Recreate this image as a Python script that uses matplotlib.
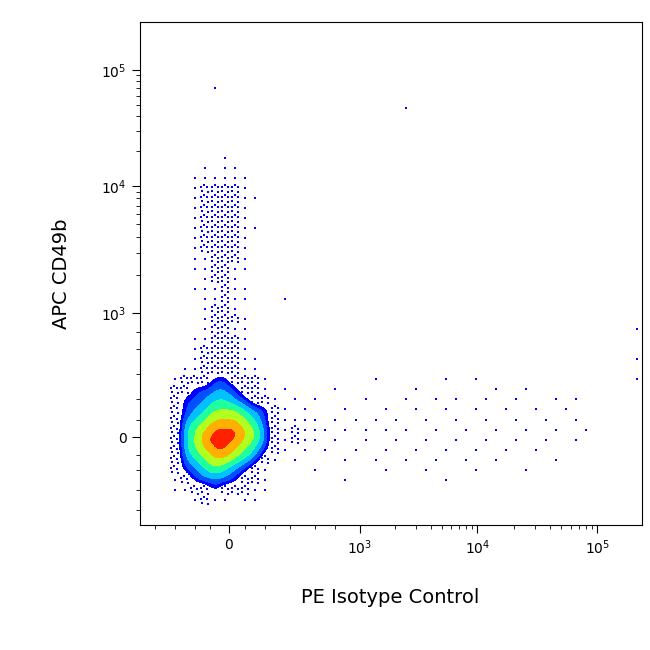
import numpy as np
import matplotlib
matplotlib.use("Agg")
import matplotlib.pyplot as plt
from matplotlib.colors import ListedColormap, BoundaryNorm

# axis positions (display units 0-100) of the biexponential tick marks
x_tick_pos = [17.7, 43.8, 67.3, 91.2]
x_tick_lab = ["0", r"$10^3$", r"$10^4$", r"$10^5$"]
y_tick_pos = [17.5, 42.1, 67.4, 90.5]
y_tick_lab = ["0", r"$10^3$", r"$10^4$", r"$10^5$"]

# density grid: row index (top=0), list of (start column, level string); cells are 2x2 units
density_rows = {
    6: [(7, "1")], 8: [(26, "1")], 13: [(8, "1")],
    14: [(6, "1011")], 15: [(5, "111111")],
    16: [(5, "122221")], 17: [(5, "122221"), (11, "1")], 18: [(5, "122221")],
    19: [(5, "122221")], 20: [(5, "122221"), (11, "1")], 21: [(5, "122221")],
    22: [(5, "122221")], 23: [(5, "112221")], 24: [(5, "112211")],
    25: [(6, "1221")], 26: [(5, "111211")], 27: [(6, "11211"), (14, "1")],
    28: [(6, "1221")], 29: [(6, "12221")], 30: [(6, "12211"), (49, "1")],
    31: [(5, "112221")], 32: [(5, "122221")], 33: [(5, "1222211"), (49, "1")],
    34: [(4, "11222211")],
    35: [(3, "1222332221"), (23, "1"), (30, "1"), (33, "1"), (49, "1")],
    36: [(3, "2233443221"), (14, "1"), (19, "1"), (27, "1"), (35, "1"), (38, "1")],
    37: [(3, "23345543221"), (15, "1"), (17, "1"), (22, "1"), (26, "1"), (29, "1"),
         (31, "1"), (34, "1"), (37, "1"), (41, "1"), (43, "1")],
    38: [(3, "234566654321"), (16, "1"), (20, "1"), (24, "1"), (27, "1"), (30, "1"),
         (33, "1"), (36, "1"), (39, "1"), (42, "1")],
    39: [(3, "245677765321"), (15, "111"), (19, "1"), (21, "1"), (23, "1"), (25, "1"),
         (28, "1"), (31, "1"), (34, "1"), (37, "1"), (40, "1"), (43, "1")],
    40: [(3, "256788876421"), (15, "2111"), (20, "1"), (22, "1"), (24, "1"), (26, "1"),
         (29, "1"), (32, "1"), (35, "1"), (38, "1"), (41, "1"), (44, "1")],
    41: [(3, "256888876421"), (15, "211"), (19, "1"), (22, "1"), (25, "1"), (28, "1"),
         (31, "1"), (34, "1"), (37, "1"), (40, "1"), (43, "1")],
    42: [(3, "256788765321"), (16, "1"), (18, "1"), (21, "1"), (24, "1"), (27, "1"),
         (30, "1"), (33, "1"), (36, "1"), (39, "1")],
    43: [(3, "24567765421"), (15, "1"), (20, "1"), (23, "1"), (26, "1"), (29, "1"),
         (32, "1"), (35, "1"), (41, "1")],
    44: [(3, "2345654321"), (17, "1"), (24, "1"), (28, "1"), (33, "1"), (38, "1")],
    45: [(3, "1234443221"), (20, "1"), (30, "1")],
    46: [(3, "1122322211")],
    47: [(5, "1211011")],
}

N = 50
grid = np.zeros((N, N), int)
for r, segs in density_rows.items():
    for c0, s in segs:
        for i, ch in enumerate(s):
            grid[r, c0 + i] = int(ch)

colors = ["#0000ff", "#0000ff", "#0000ff", "#0050ff", "#00c0ff",
          "#20ffa0", "#b0ff20", "#ffb000", "#ff2000"]
cell = 100 / N

fig = plt.figure(figsize=(6.5, 6.5), dpi=100)
ax = fig.add_axes([0.215, 0.192, 0.772, 0.774])

# smooth colored core from levels >= 3
core = np.where(grid >= 3, grid, 0).astype(float)
cmap = ListedColormap(colors[2:])
cmap.set_under((1, 1, 1, 0))
norm = BoundaryNorm([2.2, 3, 4, 5, 6, 7, 7.8, 9], cmap.N)
ax.imshow(core, extent=(0, 100, 0, 100), origin="upper", cmap=cmap, norm=norm,
          interpolation="bicubic", aspect="auto", zorder=2)

dx, dy = [], []
for r in range(N):
    for c in range(N):
        lv = grid[r, c]
        if lv == 0:
            continue
        x0 = c * cell
        y0 = 100 - (r + 1) * cell
        if lv == 1:
            dx.append(x0 + cell / 2); dy.append(y0 + cell / 2)
        elif lv == 2:
            for ox, oy in [(0.4, 0.5), (1.5, 1.2), (0.9, 1.7), (1.6, 0.3), (0.3, 1.3)]:
                dx.append(x0 + ox); dy.append(y0 + oy)
ax.scatter(dx, dy, s=1.2, marker="s", color="#0000ff", lw=0, zorder=1)

ax.set_xlim(0, 100)
ax.set_ylim(0, 100)
ax.set_xticks(x_tick_pos)
ax.set_xticklabels(x_tick_lab, fontsize=10)
ax.set_yticks(y_tick_pos)
ax.set_yticklabels(y_tick_lab, fontsize=10)
xminor = [3, 7, 11, 14, 21, 25, 30, 35, 39] + \
    [43.8 + 23.5 * np.log10(k) for k in range(2, 10)] + \
    [67.3 + 23.9 * np.log10(k) for k in range(2, 10)]
yminor = [3, 7, 11, 14, 21, 25, 30, 35, 38.5] + \
    [42.1 + 25.3 * np.log10(k) for k in range(2, 10)] + \
    [67.4 + 23.1 * np.log10(k) for k in range(2, 10)]
ax.set_xticks(xminor, minor=True)
ax.set_yticks(yminor, minor=True)
ax.tick_params(which="major", length=6, direction="out")
ax.tick_params(which="minor", length=3, direction="out")
ax.set_xlabel("PE Isotype Control", fontsize=14, labelpad=22)
ax.set_ylabel("APC CD49b", fontsize=14, labelpad=22)
fig.savefig("out.png", dpi=100)
